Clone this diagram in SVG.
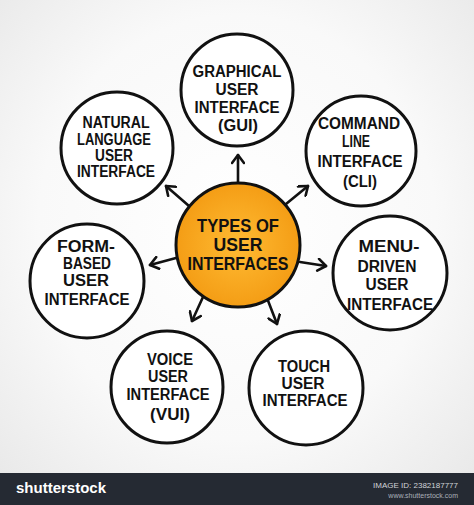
<svg xmlns="http://www.w3.org/2000/svg" width="474" height="505" viewBox="0 0 474 505">
<defs>
<radialGradient id="bg" cx="50%" cy="45%" r="70%">
<stop offset="0" stop-color="#ffffff"/>
<stop offset="0.6" stop-color="#f9f9f9"/>
<stop offset="1" stop-color="#e9e9e9"/>
</radialGradient>
<radialGradient id="orange" cx="50%" cy="50%" r="55%">
<stop offset="0" stop-color="#ffbb33"/>
<stop offset="1" stop-color="#f39a12"/>
</radialGradient>
<marker id="arr" markerWidth="14" markerHeight="14" refX="10" refY="7" orient="auto" markerUnits="userSpaceOnUse">
<path d="M2,1 L10,7 L2,13" fill="none" stroke="#111" stroke-width="2.6" stroke-linecap="round" stroke-linejoin="round"/>
</marker>
<style>
.c{fill:#fff;stroke:#111;stroke-width:3}
.t{font-family:"Liberation Sans","DejaVu Sans",sans-serif;font-weight:bold;font-size:16px;fill:#111;text-anchor:middle}
.tc{font-size:19px}
.a{stroke:#111;stroke-width:2.6;fill:none;stroke-linecap:round;marker-end:url(#arr)}
</style>
</defs>
<rect width="474" height="505" fill="url(#bg)"/>
<g id="connectors">
<line class="a" x1="238" y1="182" x2="238" y2="155"/>
<line class="a" x1="189" y1="206" x2="166" y2="186"/>
<line class="a" x1="286" y1="204" x2="308" y2="186"/>
<line class="a" x1="176" y1="258" x2="150" y2="265"/>
<line class="a" x1="300" y1="262" x2="326" y2="266"/>
<line class="a" x1="203" y1="297" x2="192" y2="321"/>
<line class="a" x1="267" y1="298" x2="277" y2="324"/>
</g>
<g id="center">
<circle cx="238" cy="245" r="62" fill="url(#orange)" stroke="#111" stroke-width="3"/>
<text class="t tc" x="238" y="232" textLength="82" lengthAdjust="spacingAndGlyphs">TYPES OF</text>
<text class="t tc" x="238" y="251" textLength="49" lengthAdjust="spacingAndGlyphs">USER</text>
<text class="t tc" x="238" y="270" textLength="101" lengthAdjust="spacingAndGlyphs">INTERFACES</text>
</g>
<g id="gui">
<circle class="c" cx="237" cy="90" r="56"/>
<text class="t" x="237" y="77" textLength="89" lengthAdjust="spacingAndGlyphs">GRAPHICAL</text>
<text class="t" x="237" y="95" textLength="43" lengthAdjust="spacingAndGlyphs">USER</text>
<text class="t" x="237" y="113" textLength="85" lengthAdjust="spacingAndGlyphs">INTERFACE</text>
<text class="t" x="238" y="131" textLength="40" lengthAdjust="spacingAndGlyphs">(GUI)</text>
</g>
<g id="natural">
<circle class="c" cx="117" cy="148" r="56"/>
<text class="t" x="116" y="128" textLength="67" lengthAdjust="spacingAndGlyphs">NATURAL</text>
<text class="t" x="114" y="145" textLength="74" lengthAdjust="spacingAndGlyphs">LANGUAGE</text>
<text class="t" x="114" y="161" textLength="38" lengthAdjust="spacingAndGlyphs">USER</text>
<text class="t" x="116" y="177" textLength="78" lengthAdjust="spacingAndGlyphs">INTERFACE</text>
</g>
<g id="cli">
<circle class="c" cx="361" cy="151" r="55"/>
<text class="t" x="359" y="129" textLength="82" lengthAdjust="spacingAndGlyphs">COMMAND</text>
<text class="t" x="356" y="147" textLength="28" lengthAdjust="spacingAndGlyphs">LINE</text>
<text class="t" x="360" y="167" textLength="85" lengthAdjust="spacingAndGlyphs">INTERFACE</text>
<text class="t" x="360" y="187" textLength="34" lengthAdjust="spacingAndGlyphs">(CLI)</text>
</g>
<g id="form">
<circle class="c" cx="87" cy="281" r="57"/>
<text class="t" x="86" y="252" textLength="58" lengthAdjust="spacingAndGlyphs">FORM-</text>
<text class="t" x="87" y="269" textLength="48" lengthAdjust="spacingAndGlyphs">BASED</text>
<text class="t" x="86" y="286" textLength="46" lengthAdjust="spacingAndGlyphs">USER</text>
<text class="t" x="87" y="305" textLength="85" lengthAdjust="spacingAndGlyphs">INTERFACE</text>
</g>
<g id="menu">
<circle class="c" cx="390" cy="273" r="57"/>
<text class="t" x="389" y="252" textLength="61" lengthAdjust="spacingAndGlyphs">MENU-</text>
<text class="t" x="387" y="272" textLength="59" lengthAdjust="spacingAndGlyphs">DRIVEN</text>
<text class="t" x="387" y="290" textLength="43" lengthAdjust="spacingAndGlyphs">USER</text>
<text class="t" x="390" y="310" textLength="86" lengthAdjust="spacingAndGlyphs">INTERFACE</text>
</g>
<g id="voice">
<circle class="c" cx="167" cy="387" r="56"/>
<text class="t" x="170" y="365" textLength="46" lengthAdjust="spacingAndGlyphs">VOICE</text>
<text class="t" x="168" y="382" textLength="40" lengthAdjust="spacingAndGlyphs">USER</text>
<text class="t" x="168" y="400" textLength="83" lengthAdjust="spacingAndGlyphs">INTERFACE</text>
<text class="t" x="170" y="420" textLength="40" lengthAdjust="spacingAndGlyphs">(VUI)</text>
</g>
<g id="touch">
<circle class="c" cx="306" cy="388" r="57"/>
<text class="t" x="304" y="372" textLength="52" lengthAdjust="spacingAndGlyphs">TOUCH</text>
<text class="t" x="303" y="389" textLength="43" lengthAdjust="spacingAndGlyphs">USER</text>
<text class="t" x="305" y="406" textLength="85" lengthAdjust="spacingAndGlyphs">INTERFACE</text>
</g>
<g id="footer">
<rect x="0" y="473" width="474" height="32" fill="#252a33"/>
<text x="16" y="493" font-family="'Liberation Sans',sans-serif" font-weight="bold" font-size="15" fill="#fff">shutterstock</text>
<text x="458" y="488" font-family="'Liberation Sans',sans-serif" font-size="8" fill="#d0d3d8" text-anchor="end">IMAGE ID: 2382187777</text>
<text x="458" y="498" font-family="'Liberation Sans',sans-serif" font-size="7" fill="#aab0b8" text-anchor="end">www.shutterstock.com</text>
</g>
</svg>
